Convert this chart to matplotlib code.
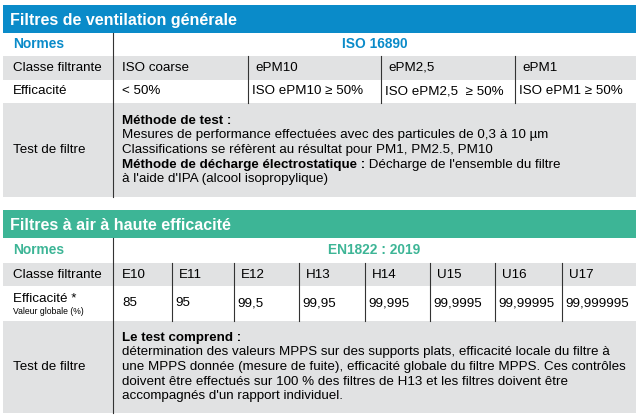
import matplotlib
matplotlib.use('Agg')
import matplotlib.pyplot as plt
from matplotlib.patches import Rectangle

plt.rcParams['font.family'] = 'Liberation Sans'

# ---------------
# Table content
# ---------------
title1 = 'Filtres de ventilation générale'
norme1 = 'ISO 16890'
classes1 = ['ISO coarse', 'ePM10', 'ePM2,5', 'ePM1']
effic1 = ['< 50%', 'ISO ePM10 ≥ 50%', 'ISO ePM2,5  ≥ 50%', 'ISO ePM1 ≥ 50%']
test1 = [('Méthode de test :', True, ''),
         ('Mesures de performance effectuées avec des particules de 0,3 à 10 µm', False, ''),
         ('Classifications se réfèrent au résultat pour PM1, PM2.5, PM10', False, ''),
         ('Méthode de décharge électrostatique :', True, ' Décharge de l\'ensemble du filtre'),
         ('à l\'aide d\'IPA (alcool isopropylique)', False, '')]

title2 = 'Filtres à air à haute efficacité'
norme2 = 'EN1822 : 2019'
classes2 = ['E10', 'E11', 'E12', 'H13', 'H14', 'U15', 'U16', 'U17']
effic2 = ['85', '95', '99,5', '99,95', '99,995', '99,9995', '99,99995', '99,999995']
test2 = [('Le test comprend :', True, ''),
         ('détermination des valeurs MPPS sur des supports plats, efficacité locale du filtre à', False, ''),
         ('une MPPS donnée (mesure de fuite), efficacité globale du filtre MPPS. Ces contrôles', False, ''),
         ('doivent être effectués sur 100 % des filtres de H13 et les filtres doivent être', False, ''),
         ('accompagnés d\'un rapport individuel.', False, '')]

# layout (pixels)
X0, XL, X1 = 3, 113, 636
cols1 = [113, 248, 381, 515, 636]
cols2 = [113, 172, 234, 299, 365, 430, 495, 562, 636]
GREY = '#e1e2e3'
BLUE = '#0a8bc9'
GREEN = '#3db596'
FS = 9.6

fig = plt.figure(figsize=(6.42, 4.2), dpi=100)
ax = fig.add_axes([0, 0, 1, 1])
ax.set_xlim(0, 642)
ax.set_ylim(420, 0)
ax.axis('off')


def draw_table(rows, title, color, norme, classes, effic, cols, test, eff_sub, eoff):
    yh, yn, yc, ye, yt, yb = rows
    ax.add_patch(Rectangle((X0, yh), X1 - X0, yn - yh, color=color, lw=0))
    ax.text(X0 + 7, (yh + yn) / 2 + 1, title, color='white', fontsize=11.5,
            fontweight='bold', va='center')
    for ya, yb_ in [(yc, ye), (yt, yb)]:
        ax.add_patch(Rectangle((X0, ya), X1 - X0, yb_ - ya, color=GREY, lw=0))
    ax.text(X0 + 10, (yn + yc) / 2, 'Normes', color=color, fontsize=FS + 0.3,
            fontweight='bold', va='center')
    ax.text((XL + X1) / 2, (yn + yc) / 2, norme, color=color, fontsize=FS + 0.3,
            fontweight='bold', va='center', ha='center')
    ax.text(X0 + 10, (yc + ye) / 2, 'Classe filtrante', fontsize=FS, va='center')
    if eff_sub:
        ax.text(X0 + 10, (ye + yt) / 2 - 4, 'Efficacité *', fontsize=FS, va='center')
        ax.text(X0 + 10, (ye + yt) / 2 + 8, 'Valeur globale (%)', fontsize=6.2, va='center')
    else:
        ax.text(X0 + 10, (ye + yt) / 2, 'Efficacité', fontsize=FS, va='center')
    ax.text(X0 + 10, (yt + yb) / 2, 'Test de filtre', fontsize=FS, va='center')
    ax.plot([XL, XL], [yn, yb], color='#333333', lw=0.8)
    for i, x in enumerate(cols[:-1]):
        if i > 0:
            ax.plot([x, x], [yc, yt], color='#333333', lw=0.8)
        ax.text(x + (9 if i == 0 else 7), (yc + ye) / 2, classes[i], fontsize=FS, va='center')
        ax.text(x + (9 if i == 0 else eoff), (ye + yt) / 2, effic[i], fontsize=FS, va='center')
    n = len(test)
    lh = 14.6
    ystart = (yt + yb) / 2 - (n - 1) * lh / 2
    for k, (line, bold, rest) in enumerate(test):
        t = ax.text(XL + 9, ystart + k * lh, line, fontsize=FS, va='center',
                    fontweight='bold' if bold else 'normal')
        if rest:
            fig.canvas.draw()
            bb = t.get_window_extent().transformed(ax.transData.inverted())
            ax.text(bb.x1, ystart + k * lh, rest, fontsize=FS, va='center')


draw_table((5, 33, 56, 80, 103, 197), title1, BLUE, norme1, classes1, effic1,
           cols1, test1, False, 4)
draw_table((210, 238, 263, 286, 321, 413), title2, GREEN, norme2, classes2, effic2,
           cols2, test2, True, 3)

fig.savefig('out.png', dpi=100)
